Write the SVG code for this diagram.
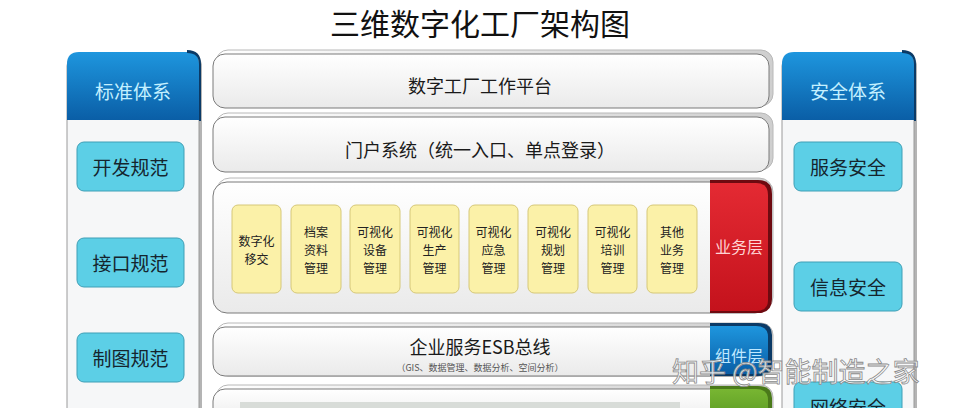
<svg xmlns="http://www.w3.org/2000/svg" width="960" height="408" viewBox="0 0 960 408">
<defs>
<linearGradient id="gBlue" x1="0" y1="0" x2="0" y2="1"><stop offset="0" stop-color="#1e96de"/><stop offset="1" stop-color="#0a5ea6"/></linearGradient>
<linearGradient id="gRed" x1="0" y1="0" x2="0" y2="1"><stop offset="0" stop-color="#e42a33"/><stop offset="1" stop-color="#c4121c"/></linearGradient>
<linearGradient id="gGreen" x1="0" y1="0" x2="0" y2="1"><stop offset="0" stop-color="#78b632"/><stop offset="1" stop-color="#5a9a22"/></linearGradient>
<linearGradient id="gBox" x1="0" y1="0" x2="0" y2="1"><stop offset="0" stop-color="#ffffff"/><stop offset="1" stop-color="#eaeaea"/></linearGradient>
<linearGradient id="gTop" x1="0" y1="0" x2="1" y2="0"><stop offset="0" stop-color="#ffffff"/><stop offset="1" stop-color="#cfcfcf"/></linearGradient>
</defs>
<style>
text{font-family:"Noto Sans CJK SC","Noto Sans",sans-serif;text-anchor:middle;dominant-baseline:central}
.title{font-size:30px;fill:#111}
.panel{fill:#f6f7f8;stroke:#9a9a9a;stroke-width:1}
.hdr{fill:url(#gBlue)}
.hdrTxt{font-size:19px;fill:#c4f0ff}
.btn{fill:#5ccfe6;stroke:#3f9fb6;stroke-width:1}
.btnTxt{font-size:19px;fill:#15252e}
.back{fill:url(#gTop);stroke:#b8b8b8;stroke-width:1}
.box{fill:url(#gBox);stroke:#7a7a7a;stroke-width:1}
.boxTxt{font-size:18px;fill:#1a1a1a}
.yel{fill:#fbf1a8;stroke:#d6c878;stroke-width:1}
.yTxt{font-size:12px;fill:#222}
.tabTxt{font-size:16px}
.wm{font-size:27px;fill:#ffffff;fill-opacity:0.85;stroke:#8a8a8a;stroke-width:0.8;text-anchor:start}
</style>

<text class="title" x="480" y="22">三维数字化工厂架构图</text>

<g id="standard-panel">
<rect x="69" y="54" width="133" height="380" rx="12" fill="#b4b4b4"/>
<rect class="panel" x="67" y="54" width="132" height="380" rx="12"/>
<path class="hdr" d="M67,120 V64 Q67,52 79,52 H187 Q199,52 199,64 V120 Z"/>
<path d="M187,50 Q201,50 201,64 V121 H199 V64 Q199,53 187,53 Z" fill="#0b3a66"/>
<text class="hdrTxt" x="133" y="90">标准体系</text>
</g>
<g id="std-dev"><rect class="btn" x="77" y="142" width="107" height="49" rx="7"/><text class="btnTxt" x="130.5" y="166">开发规范</text></g>
<g id="std-api"><rect class="btn" x="77" y="238" width="107" height="49" rx="7"/><text class="btnTxt" x="130.5" y="262">接口规范</text></g>
<g id="std-draw"><rect class="btn" x="77" y="333" width="107" height="49" rx="7"/><text class="btnTxt" x="130.5" y="357">制图规范</text></g>

<g id="security-panel">
<rect x="784" y="54" width="133" height="380" rx="12" fill="#b4b4b4"/>
<rect class="panel" x="782" y="54" width="132" height="380" rx="12"/>
<path class="hdr" d="M782,120 V64 Q782,52 794,52 H902 Q914,52 914,64 V120 Z"/>
<path d="M902,50 Q916,50 916,64 V121 H914 V64 Q914,53 902,53 Z" fill="#0b3a66"/>
<text class="hdrTxt" x="848" y="90">安全体系</text>
</g>
<g id="sec-service"><rect class="btn" x="794" y="142" width="108" height="49" rx="7"/><text class="btnTxt" x="848" y="166">服务安全</text></g>
<g id="sec-info"><rect class="btn" x="794" y="262" width="108" height="49" rx="7"/><text class="btnTxt" x="848" y="286">信息安全</text></g>
<g id="sec-net"><rect class="btn" x="794" y="382" width="108" height="49" rx="7"/><text class="btnTxt" x="848" y="406">网络安全</text></g>

<g id="platform">
<rect class="back" x="216" y="50" width="557" height="56" rx="12"/>
<rect class="box" x="213" y="54" width="556" height="54" rx="12"/>
<text class="boxTxt" x="480" y="85">数字工厂工作平台</text>
</g>

<g id="portal">
<rect class="back" x="216" y="113" width="557" height="57" rx="12"/>
<rect class="box" x="213" y="117" width="556" height="55" rx="12"/>
<text class="boxTxt" x="480" y="149">门户系统（统一入口、单点登录）</text>
</g>

<g id="business-layer">
<rect class="back" x="216" y="178" width="557" height="133" rx="14"/>
<rect class="box" x="213" y="182" width="556" height="131" rx="14"/>
<path d="M710,180 H758 Q772,180 772,194 V299 Q772,313 758,313 H710 Z" fill="#6e0a10"/>
<path d="M710,183 H756 Q768,183 768,195 V300 Q768,311 756,311 H710 Z" fill="url(#gRed)"/>
<text class="tabTxt" x="739" y="246" fill="#ffd4d4">业务层</text>
</g>
<g id="b1"><rect class="yel" x="232" y="205" width="49" height="88" rx="6"/><text class="yTxt" x="256.5" y="240">数字化</text><text class="yTxt" x="256.5" y="258">移交</text></g>
<g id="b2"><rect class="yel" x="291" y="205" width="50" height="88" rx="6"/><text class="yTxt" x="316" y="231">档案</text><text class="yTxt" x="316" y="249">资料</text><text class="yTxt" x="316" y="267">管理</text></g>
<g id="b3"><rect class="yel" x="350" y="205" width="50" height="88" rx="6"/><text class="yTxt" x="375" y="231">可视化</text><text class="yTxt" x="375" y="249">设备</text><text class="yTxt" x="375" y="267">管理</text></g>
<g id="b4"><rect class="yel" x="410" y="205" width="49" height="88" rx="6"/><text class="yTxt" x="434.5" y="231">可视化</text><text class="yTxt" x="434.5" y="249">生产</text><text class="yTxt" x="434.5" y="267">管理</text></g>
<g id="b5"><rect class="yel" x="469" y="205" width="49" height="88" rx="6"/><text class="yTxt" x="493.5" y="231">可视化</text><text class="yTxt" x="493.5" y="249">应急</text><text class="yTxt" x="493.5" y="267">管理</text></g>
<g id="b6"><rect class="yel" x="528" y="205" width="50" height="88" rx="6"/><text class="yTxt" x="553" y="231">可视化</text><text class="yTxt" x="553" y="249">规划</text><text class="yTxt" x="553" y="267">管理</text></g>
<g id="b7"><rect class="yel" x="588" y="205" width="49" height="88" rx="6"/><text class="yTxt" x="612.5" y="231">可视化</text><text class="yTxt" x="612.5" y="249">培训</text><text class="yTxt" x="612.5" y="267">管理</text></g>
<g id="b8"><rect class="yel" x="647" y="205" width="50" height="88" rx="6"/><text class="yTxt" x="672" y="231">其他</text><text class="yTxt" x="672" y="249">业务</text><text class="yTxt" x="672" y="267">管理</text></g>

<g id="component-layer">
<rect class="back" x="216" y="323" width="557" height="53" rx="12"/>
<rect class="box" x="213" y="327" width="556" height="49" rx="12"/>
<path d="M710,323 H758 Q772,323 772,335 V364 Q772,376 758,376 H710 Z" fill="#0b3a66"/>
<path d="M710,326 H756 Q768,326 768,337 V364 Q768,374 756,374 H710 Z" fill="url(#gBlue)"/>
<text class="tabTxt" x="739" y="355" fill="#bfe8ff">组件层</text>
<text x="480" y="346" font-size="18" fill="#1a1a1a">企业服务ESB总线</text>
<text x="480" y="367" font-size="9" fill="#555">（GIS、数据管理、数据分析、空间分析）</text>
</g>

<g id="data-layer">
<rect class="back" x="216" y="385" width="557" height="40" rx="12"/>
<rect class="box" x="213" y="389" width="556" height="36" rx="12"/>
<rect x="240" y="402" width="440" height="10" fill="#d8dcd8"/>
<path d="M710,386 H758 Q772,386 772,398 V420 H710 Z" fill="#4a7a1a"/>
<path d="M710,389 H756 Q768,389 768,400 V420 H710 Z" fill="url(#gGreen)"/>
</g>

<g id="connectors"></g>

<text class="wm" x="672" y="370">知乎 @智能制造之家</text>
</svg>
